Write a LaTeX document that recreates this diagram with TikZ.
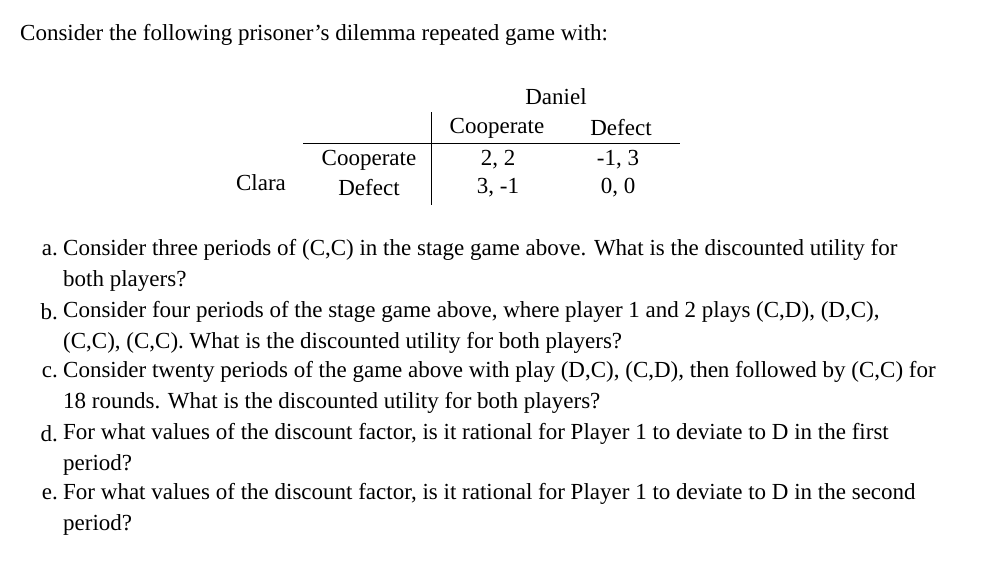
\documentclass[tikz,border=0pt]{standalone}
\usepackage{fontspec}
\setmainfont{Liberation Serif}
\begin{document}
\begin{tikzpicture}[x=1pt,y=-1pt,
  t/.style={font=\fontsize{23}{31}\selectfont,inner sep=0pt},
  lab/.style={t,anchor=east},
  item/.style={t,anchor=west,align=left}]
\useasboundingbox (0,0) rectangle (987,581);
\node[t,anchor=west] (title) at (20,35) {Consider the following prisoner’s dilemma repeated game with:};
\node[t] (dan) at (556,97) {Daniel};
\node[t] (cc) at (497,128) {Cooperate};
\node[t] (cd) at (621,128) {Defect};
\node[t] (rc) at (369,160) {Cooperate};
\node[t] (rd) at (369,188) {Defect};
\node[t] (p11) at (498,160) {2, 2};
\node[t] (p12) at (618,160) {-1, 3};
\node[t] (p21) at (498,188) {3, -1};
\node[t] (p22) at (618,188) {0, 0};
\node[t] (clara) at (261,183) {Clara};
\coordinate (v1) at (431,112); \coordinate (v2) at (431,205);
\coordinate (h1) at (303,143); \coordinate (h2) at (680,143);
\draw[line width=1pt] (v1) -- (v2);
\draw[line width=1pt] (h1) -- (h2);
\node[lab] (la) at (58,250) {a.};
\node[item] (ia) at (63,265) {Consider three periods of (C,C) in the stage game above. What is the discounted utility for\\both players?};
\node[lab] (lb) at (58,312) {b.};
\node[item] (ib) at (63,327) {Consider four periods of the stage game above, where player 1 and 2 plays (C,D), (D,C),\\(C,C), (C,C). What is the discounted utility for both players?};
\node[lab] (lc) at (58,372) {c.};
\node[item] (ic) at (63,387) {Consider twenty periods of the game above with play (D,C), (C,D), then followed by (C,C) for\\18 rounds. What is the discounted utility for both players?};
\node[lab] (ld) at (58,434) {d.};
\node[item] (id) at (63,449) {For what values of the discount factor, is it rational for Player 1 to deviate to D in the first\\period?};
\node[lab] (le) at (58,494) {e.};
\node[item] (ie) at (63,509) {For what values of the discount factor, is it rational for Player 1 to deviate to D in the second\\period?};
\end{tikzpicture}
\end{document}
